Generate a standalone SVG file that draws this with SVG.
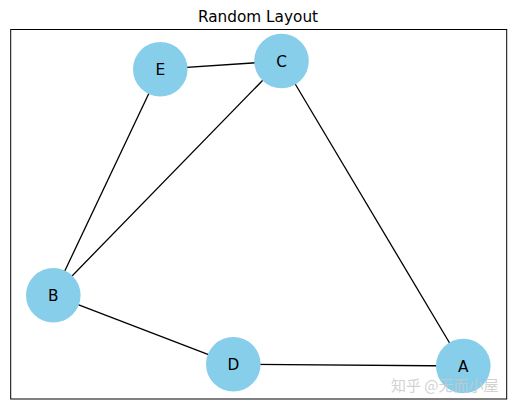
<svg xmlns="http://www.w3.org/2000/svg" width="515" height="409" viewBox="0 0 515 409">
<style>
.node circle { fill: #87CEEB; }
.node text { font-family: "DejaVu Sans", sans-serif; font-size: 15.3px; fill: #000; text-anchor: middle; dominant-baseline: central; }
.edges line { stroke: #000; stroke-width: 1.3; }
.title { font-family: "DejaVu Sans", sans-serif; font-size: 15.3px; fill: #000; text-anchor: middle; }
.wm { font-family: "Noto Sans CJK SC", "DejaVu Sans", sans-serif; font-size: 15px; fill: #c9c9c9; fill-opacity: 0.85; }
</style>
<rect x="0" y="0" width="515" height="409" fill="#fff"/>
<text class="title" x="258" y="21.5">Random Layout</text>
<rect x="10.7" y="29.5" width="496" height="369.5" fill="none" stroke="#000" stroke-width="1"/>
<g class="edges">
<line x1="160.3" y1="69.2" x2="281.5" y2="61"/>
<line x1="160.3" y1="69.2" x2="53.3" y2="295.2"/>
<line x1="281.5" y1="61" x2="53.3" y2="295.2"/>
<line x1="281.5" y1="61" x2="463.3" y2="366"/>
<line x1="53.3" y1="295.2" x2="233.3" y2="364.2"/>
<line x1="233.3" y1="364.2" x2="463.3" y2="366"/>
</g>
<g id="node-E" class="node"><circle cx="160.3" cy="69.2" r="27.3"/><text x="160.3" y="69.7">E</text></g>
<g id="node-C" class="node"><circle cx="281.5" cy="61" r="27.3"/><text x="281.5" y="61.5">C</text></g>
<g id="node-B" class="node"><circle cx="53.3" cy="295.2" r="27.3"/><text x="53.3" y="295.7">B</text></g>
<g id="node-D" class="node"><circle cx="233.3" cy="364.2" r="27.3"/><text x="233.3" y="364.7">D</text></g>
<g id="node-A" class="node"><circle cx="463.3" cy="366" r="27.3"/><text x="463.3" y="366.5">A</text></g>
<text class="wm" x="391" y="391">知乎 @无而小屋</text>
</svg>
